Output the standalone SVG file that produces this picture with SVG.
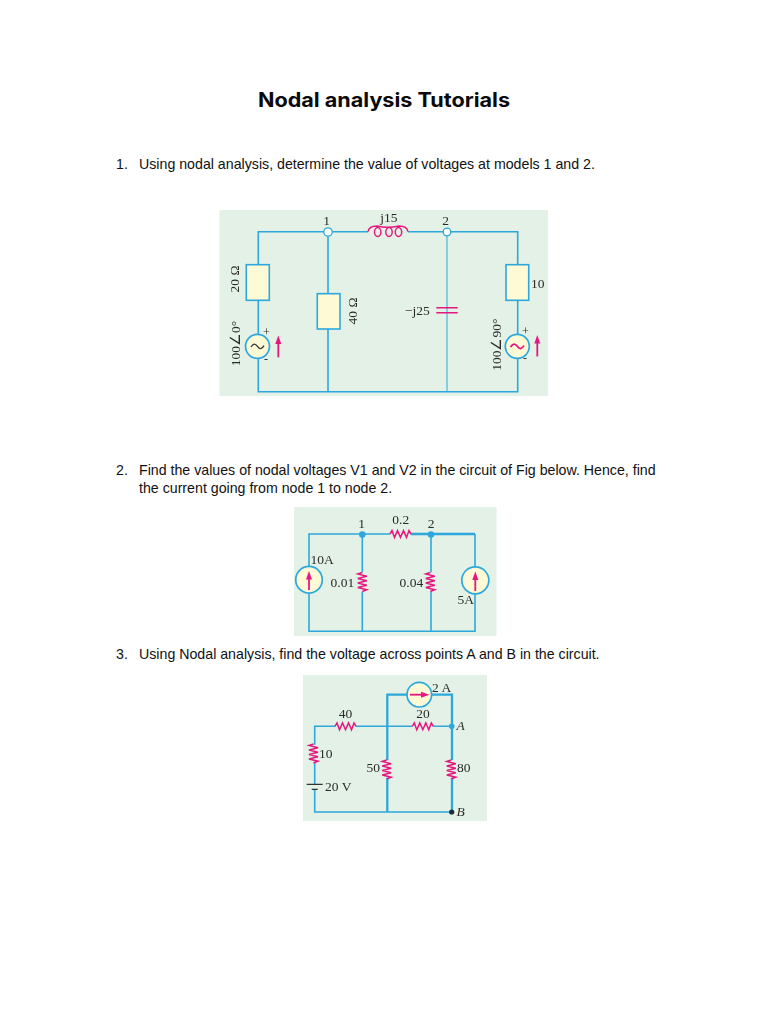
<svg xmlns="http://www.w3.org/2000/svg" width="768" height="1024" viewBox="0 0 768 1024">
<style>
.h{font-family:"Liberation Sans",Arial,sans-serif;font-size:14.2px;fill:#111}
.t{font-family:"Inter","Liberation Sans",sans-serif;font-size:19.5px;font-weight:700;fill:#0a0a0a}
.l{font-family:"Liberation Serif","Times New Roman",serif;font-size:13.5px;fill:#2b2b2b}
.s{font-size:12px}
.bg{fill:#e3f1e6}
.w{fill:none;stroke:#2ea8dc;stroke-width:1.6}
.wb{fill:none;stroke:#2ea8dc;stroke-width:2.3}
.wt{fill:none;stroke:#2ea8dc;stroke-width:1}
.r{fill:#fffad6;stroke:#2ea8dc;stroke-width:1.6}
.src{fill:#fffad6;stroke:#2ea8dc;stroke-width:1.7}
.p{fill:none;stroke:#e6187f;stroke-width:1.5}
.pa{fill:none;stroke:#e6187f;stroke-width:1.8}
.pf{fill:#e6187f}
.n{fill:#fff;stroke:#2ea8dc;stroke-width:1.3}
.d{fill:#2ea8dc}
.k{fill:none;stroke:#333;stroke-width:1.3}
</style>
<defs>
<filter id="soft" x="-5%" y="-5%" width="110%" height="110%"><feGaussianBlur stdDeviation="0.4"/></filter>
<path id="rz" d="M0 0L2 -3.4L4.5 3.4L7.5 -3.4L10.5 3.4L13.5 -3.4L16.5 3.4L19 -3.4L21 0"/>
<path id="rv" d="M0 0L-4.5 1.5L4.5 3.7L-4.5 6L4.5 8.2L-4.5 10.5L4.5 12.8L-4.5 15L4.5 17.2L0 19"/>
<path id="up" d="M0 0L-3 8.500L3 8.500Z"/>
</defs>
<rect width="768" height="1024" fill="#fff"/>
<text class="t" x="258" y="107" textLength="252" lengthAdjust="spacingAndGlyphs">Nodal analysis Tutorials</text>
<text class="h" x="116" y="169">1.</text>
<text class="h" x="139" y="169">Using nodal analysis, determine the value of voltages at models 1 and 2.</text>
<text class="h" x="116" y="475">2.</text>
<text class="h" x="139" y="475">Find the values of nodal voltages V1 and V2 in the circuit of Fig below. Hence, find</text>
<text class="h" x="139" y="493">the current going from node 1 to node 2.</text>
<text class="h" x="116" y="659">3.</text>
<text class="h" x="139" y="659">Using Nodal analysis, find the voltage across points A and B in the circuit.</text>

<g filter="url(#soft)">
<rect class="bg" x="219.500" y="210" width="328.500" height="186"/>
<rect class="bg" x="294" y="507" width="202.500" height="129"/>
<rect class="bg" x="303" y="675" width="184" height="146"/>

<g id="connectors">
<path class="w" d="M368 231.700H258.300V264.700M258.300 300.300V334M258.300 358.500V391.700H517.700V358.500M517.700 334V300.300M517.700 264.700V231.700H408"/>
<path class="w" d="M328 231.700V293.700M328 329V391.700"/>
<path class="wt" d="M447 231.700V391.700"/>
<path class="w" d="M390 534H309V566.500M309 593V631.300H475V594M475 567V534"/>
<path class="wb" d="M410.700 534H475"/>
<path class="w" d="M362.300 534V572.300M362.300 591.700V631.300M431 534V572.300M431 591.700V631.300"/>
<path class="w" d="M335 726.300H314.700V744.700M314.700 762V784.300M314.700 789.300V812H452M356 726.300H412.300M433.300 726.300H452"/>
<path class="wb" d="M407 694.700H387.300V760M387.300 777.700V812M431.600 694.700H452V760M452 777.700V812"/>
</g>

<g id="c1-inductor">
<path class="p" d="M368 231.700Q369 226 377 226Q388 228.500 399 226Q407 226 408 231.700"/>
<ellipse class="p" cx="377.700" cy="232" rx="3.200" ry="4.500"/>
<ellipse class="p" cx="389" cy="232" rx="3.200" ry="4.500"/>
<ellipse class="p" cx="398.500" cy="232" rx="3.200" ry="4.500"/>
<text class="l" x="389" y="222" text-anchor="middle">j15</text>
</g>
<g id="c1-node1"><circle class="n" cx="328" cy="232" r="4.200"/><text class="l" x="326.700" y="225" text-anchor="middle">1</text></g>
<g id="c1-node2"><circle class="n" cx="447" cy="232" r="3.800"/><text class="l" x="445.500" y="225" text-anchor="middle">2</text></g>
<g id="c1-r20"><rect class="r" x="246.300" y="264.700" width="23" height="35.600"/><text class="l" transform="translate(239,279) rotate(-90)" text-anchor="middle">20 Ω</text></g>
<g id="c1-r40"><rect class="r" x="317.300" y="293.700" width="22.700" height="35.300"/><text class="l" transform="translate(356.700,311) rotate(-90)" text-anchor="middle">40 Ω</text></g>
<g id="c1-r10"><rect class="r" x="506" y="264.700" width="22.700" height="35.600"/><text class="l" x="531" y="288">10</text></g>
<g id="c1-cap">
<path class="p" d="M436.300 307.700H457.700M436.300 312.700H457.700"/>
<text class="l" x="405" y="315">−j25</text>
</g>
<g id="c1-src1">
<circle class="src" cx="257.500" cy="346.300" r="12"/>
<path class="k" d="M251 347Q254 341.500 257.500 346.300T264 345.600"/>
<text class="l s" x="263" y="336">+</text><text class="l s" x="264" y="363">-</text>
<path class="pa" d="M278.300 342V357.300"/><use class="pf" href="#up" x="278.300" y="335.500"/>
<text class="l" transform="translate(240,343.500) rotate(-90)" text-anchor="middle">100∠0°</text>
</g>
<g id="c1-src2">
<circle class="src" cx="517.300" cy="346.300" r="12"/>
<path class="pa" d="M510.500 347Q514 341.500 517.300 346.300T524 345.600"/>
<text class="l s" x="522" y="335">+</text><text class="l s" x="523" y="362">-</text>
<path class="pa" d="M537.300 341V356.500"/><use class="pf" href="#up" x="537.300" y="335"/>
<text class="l" transform="translate(501,344.700) rotate(-90)" text-anchor="middle">100∠90°</text>
</g>

<g id="c2-r02"><use class="p" href="#rz" x="390" y="534"/><text class="l" x="400.800" y="524" text-anchor="middle">0.2</text></g>
<g id="c2-node1"><circle class="d" cx="362.300" cy="534.500" r="3.300"/><text class="l" x="361.700" y="528" text-anchor="middle">1</text></g>
<g id="c2-node2"><circle class="d" cx="431" cy="534.500" r="3.300"/><text class="l" x="431" y="528" text-anchor="middle">2</text></g>
<g id="c2-src10">
<circle class="src" cx="309" cy="579.700" r="13.300"/>
<path class="pa" d="M309 576V590"/><use class="pf" href="#up" x="309" y="571"/>
<text class="l" x="310.500" y="564">10A</text>
</g>
<g id="c2-r001"><use class="p" href="#rv" x="362.300" y="572.500"/><text class="l" x="330.500" y="587">0.01</text></g>
<g id="c2-r004"><use class="p" href="#rv" x="430.300" y="572.500"/><text class="l" x="399.500" y="587">0.04</text></g>
<g id="c2-src5">
<circle class="src" cx="475.300" cy="580.300" r="13.500"/>
<path class="pa" d="M475.300 577V591"/><use class="pf" href="#up" x="475.300" y="571.500"/>
<text class="l" x="457.500" y="604">5A</text>
</g>

<g id="c3-src2a">
<circle class="src" cx="419.300" cy="694.700" r="12.300"/>
<path class="pa" d="M410 694.700H424"/><path class="pf" d="M429.500 694.700L421 691.700V697.700Z"/>
<text class="l" x="432" y="692">2 A</text>
</g>
<g id="c3-r40"><use class="p" href="#rz" x="335" y="726.300"/><text class="l" x="345.500" y="718" text-anchor="middle">40</text></g>
<g id="c3-r20"><use class="p" href="#rz" x="412.300" y="726.300"/><text class="l" x="423" y="718" text-anchor="middle">20</text></g>
<g id="c3-r10"><use class="p" href="#rv" x="313.500" y="744"/><text class="l" x="319" y="757.700">10</text></g>
<g id="c3-bat">
<path class="k" d="M306.700 784.300H322.700M311.700 789.300H317.700"/>
<text class="l" x="325" y="791">20 V</text>
</g>
<g id="c3-r50"><use class="p" href="#rv" x="386.700" y="760"/><text class="l" x="366.500" y="772">50</text></g>
<g id="c3-r80"><use class="p" href="#rv" x="451.300" y="760"/><text class="l" x="457" y="772">80</text></g>
<g id="c3-nodeA"><circle class="d" cx="451.700" cy="726.300" r="2.800"/><text class="l" x="456.500" y="730" font-style="italic">A</text></g>
<g id="c3-nodeB"><circle fill="#1c2f3a" cx="451.700" cy="812" r="2.600"/><text class="l" x="456.500" y="815.500" font-style="italic">B</text></g>
</g>
</svg>
